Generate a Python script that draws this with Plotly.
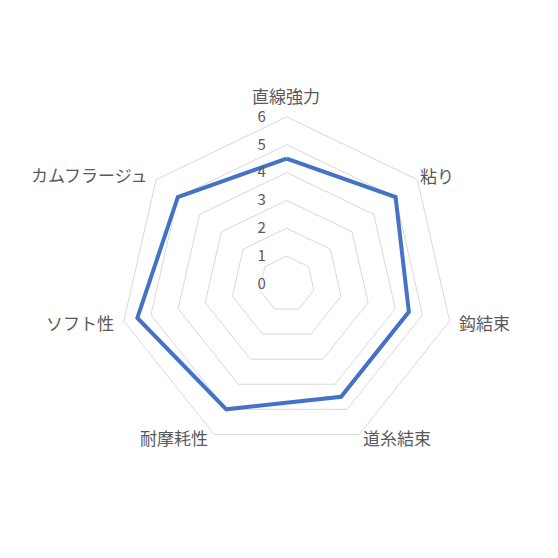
import plotly.graph_objects as go

categories = ["直線強力", "粘り", "鈎結束", "道糸結束", "耐摩耗性", "ソフト性", "カムフラージュ"]
values = [4.5, 5, 4.5, 4.5, 5, 5.5, 5]
tick_vals = [0, 1, 2, 3, 4, 5, 6]

# close the polygon
r = values + values[:1]
theta = categories + categories[:1]

fig = go.Figure()
fig.add_trace(go.Scatterpolar(
    r=r, theta=theta, mode="lines",
    line=dict(color="#4472C4", width=4),
    fill="none", showlegend=False,
))

# category labels sit beside the outer vertices like in Excel, so place them by hand
# (page body has an 8px margin, so screen positions are shifted by OFF)
W = 558
OFF = 8
label_pos = [
    (286, 96, "center"),
    (437, 175, "center"),
    (457, 322, "left"),
    (397, 438, "center"),
    (174, 438, "center"),
    (116, 322, "right"),
    (149, 174, "right"),
]
for name, (px, py, anchor) in zip(categories, label_pos):
    fig.add_annotation(
        x=(px - OFF) / W, y=1 - (py - OFF) / W, xref="paper", yref="paper",
        text=name, showarrow=False, xanchor=anchor, yanchor="middle",
        font=dict(size=17, color="#595959", family="Noto Sans CJK JP"),
    )

fig.update_layout(
    width=558, height=558,
    margin=dict(l=0, r=0, t=0, b=0),
    paper_bgcolor="white",
    font=dict(family="Noto Sans CJK JP", color="#595959"),
    polar=dict(
        domain=dict(x=[0.2000, 0.7989], y=[0.2061, 0.8050]),
        bgcolor="white",
        gridshape="linear",
        angularaxis=dict(
            rotation=90, direction="clockwise",
            showgrid=False, showline=True, linecolor="#d9d9d9", linewidth=1,
            ticks="", showticklabels=False,
        ),
        radialaxis=dict(
            range=[0, 6], tickvals=tick_vals, angle=90,
            showline=False, showgrid=True, gridcolor="#d9d9d9", gridwidth=1,
            ticks="outside", ticklen=15, tickcolor="rgba(0,0,0,0)",
            tickfont=dict(size=15, color="#595959"),
            tickangle=90, side="counterclockwise",
        ),
    ),
)

fig.write_html("out.html")
